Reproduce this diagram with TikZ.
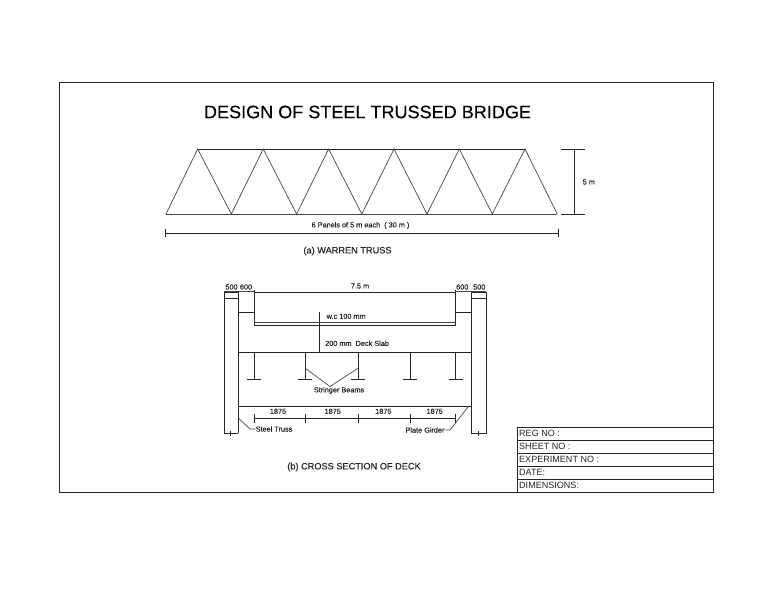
\documentclass[tikz,border=0pt]{standalone}
\usepackage{fontspec}
\setmainfont{Liberation Sans}
\newfontfamily\fbt[FakeBold=0.3]{Liberation Sans}
\newfontfamily\fbs[FakeBold=0.15]{Liberation Sans}
\tikzset{
  ln/.style={line width=0.85pt,draw=black!85},
  thin ln/.style={line width=0.7pt,draw=black!72},
  tiny/.style={font=\fbt\fontsize{7.3}{8}\selectfont,inner sep=0pt,text=black!85},
  captext/.style={font=\fbs\fontsize{9.2}{11}\selectfont,inner sep=0pt,text=black!85},
  tbl/.style={font=\fontsize{9.05}{11}\selectfont,inner sep=0pt,anchor=west,text=black!85},
}
\begin{document}
\begin{tikzpicture}[x=1pt,y=-1pt]
\useasboundingbox (0,0) rectangle (768,594);
\fill[white] (0,0) rectangle (768,594);
% frame
\draw[ln] (59,82) rectangle (713,492);
% title
\node[inner sep=0pt,font=\fbs\fontsize{18.05}{22}\selectfont] (title) at (367.5,112) {DESIGN OF STEEL TRUSSED BRIDGE};
% truss joints
\foreach \i/\x in {0/166,1/231.3,2/296.6,3/361.8,4/427,5/492.3,6/557.3} \coordinate (b\i) at (\x,214);
\foreach \i/\x in {1/197.7,2/263.2,3/328.6,4/394,5/459.3,6/525} \coordinate (t\i) at (\x,149);
\draw[ln] (t1) -- (t6);
\draw[thin ln] (b0) -- (b6);
\draw[thin ln] (b0) -- (t1) -- (b1) -- (t2) -- (b2) -- (t3) -- (b3) -- (t4) -- (b4) -- (t5) -- (b5) -- (t6) -- (b6);
% height dimension
\coordinate (h1) at (574,149); \coordinate (h2) at (574,214);
\draw[ln] (561,149) -- (585,149) (561,214) -- (585,214) (h1) -- (h2);
\node[tiny,anchor=west] (hlab) at (582.5,182) {5 m};
% span dimension
\coordinate (s1) at (165.5,233); \coordinate (s2) at (558,233);
\draw[ln] (s1) -- (s2) (165.5,229) -- (165.5,237) (558,229) -- (558,237);
\node[tiny] (slab) at (360.5,225.5) {6 Panels of 5 m each \ ( 30 m )};
\node[captext] (capa) at (347.5,251) {(a) WARREN TRUSS};
% cross section: columns
\draw[ln] (238.3,433.3) -- (224,433.3) -- (224,292) -- (238.3,292) -- (238.3,433.3);
\draw[ln] (224,298.3) -- (238.3,298.3);
\draw[ln] (471.7,292) -- (486,292) -- (486,433.3) -- (471.7,433.3) -- cycle;
\draw[ln] (471.7,298.3) -- (486,298.3);
\draw[ln] (230.5,431) -- (230.5,436) (478.7,431) -- (478.7,436);
% deck
\draw[ln] (254.3,292.7) -- (455.7,292.7);
\draw[ln] (254.3,290) -- (254.3,325) -- (455.7,325) -- (455.7,290);
\draw[thin ln] (254.3,322.7) -- (455.7,322.7);
\draw[ln] (238.3,312.3) -- (254.3,312.3) (455.7,312.3) -- (471.7,312.3);
\draw[ln] (238.3,352.7) -- (471.7,352.7);
\draw[ln] (238.3,406) -- (471.7,406);
\draw[ln] (319,311.7) -- (319,352.7);
% top dims
\draw[thin ln] (224,291.5) -- (254.3,291.5) (455.7,291.5) -- (486,291.5);
\node[tiny] (d500l) at (231.5,287) {500};
\node[tiny] (d600l) at (246,287) {600};
\node[tiny] (d75) at (360,286) {7.5 m};
\node[tiny] (d600r) at (462.3,287) {600};
\node[tiny] (d500r) at (479.3,287) {500};
\node[tiny,anchor=west] (wc) at (326.5,316.3) {w.c 100 mm};
\node[tiny,anchor=west] (slabt) at (325,343.3) {200 mm \ Deck Slab};
% stringers
\foreach \x in {254.3,305,358.3,410.3,455.7} {
  \draw[ln] (\x,352.7) -- (\x,379);
  \draw[ln] (\x-7,379) -- (\x+7,379);
}
\coordinate (sb) at (330,386.5);
\draw[thin ln] (305,368) -- (sb) -- (358.3,368);
\node[tiny] (sbl) at (339,390.5) {Stringer Beams};
% lower dimension
\draw[ln] (254.3,418.3) -- (455.7,418.3);
\foreach \x in {254.3,305,358.3,410.3,455.7} \draw[ln] (\x,413.5) -- (\x,423);
\foreach \x in {278,332.7,383.3,434.7} \node[tiny] at (\x,411.3) {1875};
% leaders
\node[tiny,anchor=west] (st) at (255.5,429) {Steel Truss};
\node[tiny] (pg) at (425,430) {Plate Girder};
\draw[thin ln] (238.3,418) -- (250,429) -- (st.west);
\draw[thin ln] (pg.east) ++(1,0) -- (450,430) -- (468,407);
\node[captext] (capb) at (354,467) {(b) CROSS SECTION OF DECK};
% title block
\draw[ln] (517,427.5) rectangle (713,492);
\foreach \y in {440.5,453.3,466.2,479.1} \draw[ln] (517,\y) -- (713,\y);
\node[tbl] (r1) at (519,433.8) {REG NO :};
\node[tbl] (r2) at (519,446.8) {SHEET NO :};
\node[tbl] (r3) at (519,459.6) {EXPERIMENT NO :};
\node[tbl] (r4) at (519,472.6) {DATE:};
\node[tbl] (r5) at (519,485.6) {DIMENSIONS:};
\end{tikzpicture}
\end{document}
